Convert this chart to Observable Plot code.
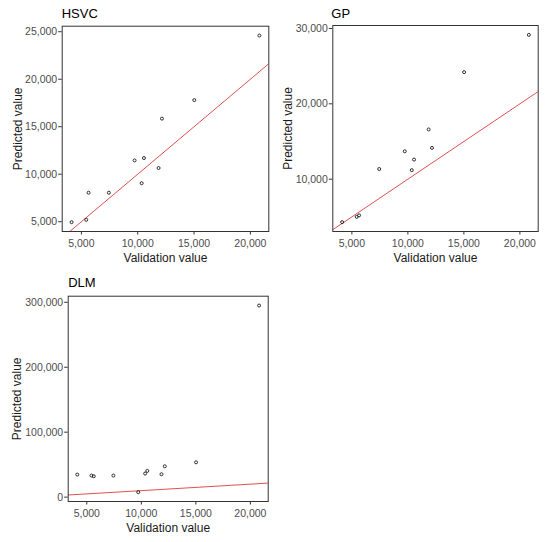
<!DOCTYPE html>
<html>
<head>
<meta charset="utf-8">
<script src="https://cdn.jsdelivr.net/npm/d3@7"></script>
<script src="https://cdn.jsdelivr.net/npm/@observablehq/plot@0.6"></script>
<style>
  html, body { margin: 0; padding: 0; background: #fff; }
  #root { position: relative; width: 550px; height: 542px; background: #fff; }
  #root svg { position: absolute; }
</style>
</head>
<body>
<div id="root"></div>
<script>
// Validation (observed) values, shared by all panels
const validation = [4130, 5430, 5640, 7440, 9720, 10350, 10550, 11850, 12150, 15020, 20800];
// Predicted values per model
const hsvc = [4950, 5200, 8050, 8050, 11450, 9050, 11700, 10650, 15850, 17800, 24600];
const gp   = [4300, 5000, 5200, 11350, 13700, 11200, 12600, 16600, 14150, 24200, 29150];
const dlm  = [34750, 33200, 32150, 33200, 7650, 36300, 40400, 35200, 47500, 53600, 295000];
// Tick labels
const xTicks = [5000, 10000, 15000, 20000];
const hsvcTicks = [5000, 10000, 15000, 20000, 25000];
const gpTicks = [10000, 20000, 30000];
const dlmTicks = [0, 100000, 200000, 300000];

const font = "'Liberation Sans', Arial, Helvetica, sans-serif";
const fmt = d3.format(",.0f");

function expand([lo, hi]) {
  const e = (hi - lo) * 0.05;
  return [lo - e, hi + e];
}

function panel(o) {
  const xd = expand(d3.extent(validation));
  const yd = expand(d3.extent(o.y));
  const pts = validation.map((v, i) => ({v, p: o.y[i]}));
  const ref = [{v: xd[0]}, {v: xd[1]}];
  const svg = Plot.plot({
    width: o.width, height: o.height,
    marginLeft: o.ml, marginRight: o.mr, marginTop: o.mt, marginBottom: o.mb,
    x: {domain: xd},
    y: {domain: yd},
    style: {fontFamily: font, fontSize: "10px", background: "transparent", overflow: "visible"},
    marks: [
      Plot.line(ref, {x: "v", y: "v", stroke: "#dc3c3c", strokeWidth: 0.9, clip: true}),
      Plot.dot(pts, {x: "v", y: "p", r: 1.5, stroke: "#1a1a1a", strokeWidth: 0.9, fill: "none"}),
      Plot.frame({stroke: "#333", strokeWidth: 1}),
      Plot.axisX({ticks: xTicks, tickFormat: fmt, tickSize: 3.5, tickPadding: 5, color: "#4d4d4d", stroke: "#333", fontSize: 10.5, label: null}),
      Plot.axisY({ticks: o.yTicks, tickFormat: fmt, tickSize: 3.5, tickPadding: 1.5, color: "#4d4d4d", stroke: "#333", fontSize: 10.5, label: null}),
      Plot.text([o.title], {text: d => d, frameAnchor: "top-left", textAnchor: "start", lineAnchor: "bottom", dx: o.tdx, dy: o.tdy, fontSize: 13, fill: "#000"}),
      Plot.text(["Validation value"], {text: d => d, frameAnchor: "bottom", textAnchor: "middle", lineAnchor: "bottom", dy: o.xdy, fontSize: 12, fill: "#1a1a1a"}),
      Plot.text(["Predicted value"], {text: d => d, frameAnchor: "left", textAnchor: "middle", lineAnchor: "bottom", rotate: -90, dx: o.ydx, fontSize: 12, fill: "#1a1a1a"})
    ]
  });
  svg.style.left = o.left + "px";
  svg.style.top = o.top + "px";
  return svg;
}

const root = document.getElementById("root");
root.appendChild(panel({title: "HSVC", y: hsvc, yTicks: hsvcTicks, left: 0, top: 0, width: 275, height: 270,
  ml: 61.7, mr: 6.7, mt: 25.7, mb: 39, tdx: -0.5, tdy: -8.4, xdy: 30.5, ydx: -40.2}));
root.appendChild(panel({title: "GP", y: gp, yTicks: gpTicks, left: 275, top: 0, width: 275, height: 270,
  ml: 57.3, mr: 12.3, mt: 25, mb: 39, tdx: -1.5, tdy: -7.7, xdy: 30.5, ydx: -41.3}));
root.appendChild(panel({title: "DLM", y: dlm, yTicks: dlmTicks, left: 0, top: 270, width: 275, height: 272,
  ml: 67.7, mr: 7.3, mt: 25.7, mb: 41, tdx: 0, tdy: -9, xdy: 30.5, ydx: -46.7}));
</script>
</body>
</html>
